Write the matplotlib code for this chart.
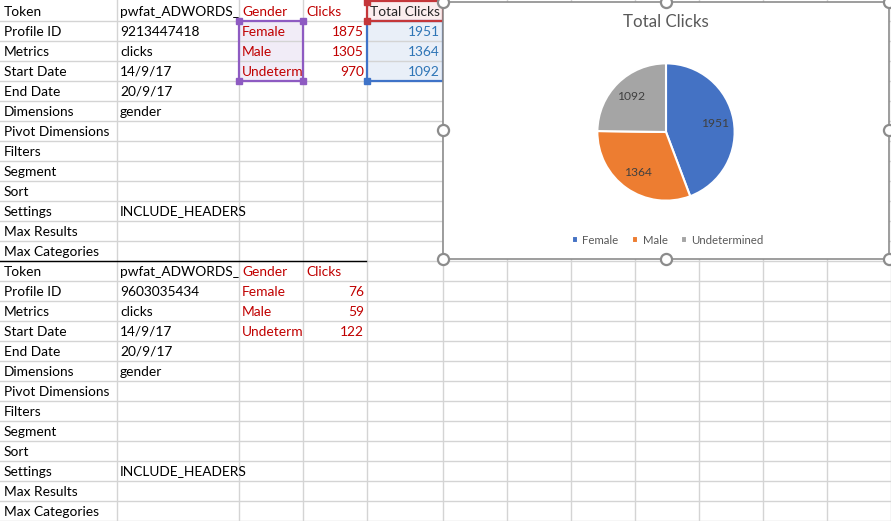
import matplotlib
matplotlib.use("Agg")
import matplotlib.pyplot as plt
from matplotlib.patches import Rectangle
from matplotlib.transforms import Bbox, TransformedBbox

plt.rcParams['font.family'] = ['Lato', 'DejaVu Sans']

# ---------------- data ----------------
row_labels = ["Token", "Profile ID", "Metrics", "Start Date", "End Date", "Dimensions",
              "Pivot Dimensions", "Filters", "Segment", "Sort", "Settings",
              "Max Results", "Max Categories"]
block1_values = ["pwfat_ADWORDS_FEED", "9213447418", "clicks", "14/9/17", "20/9/17", "gender",
                 "", "", "", "", "INCLUDE_HEADERS", "", ""]
block2_values = ["pwfat_ADWORDS_FEED", "9603035434", "clicks", "14/9/17", "20/9/17", "gender",
                 "", "", "", "", "INCLUDE_HEADERS", "", ""]
genders = ["Female", "Male", "Undetermined"]
clicks1 = [1875, 1305, 970]
total_clicks = [1951, 1364, 1092]
clicks2 = [76, 59, 122]
pie_colors = ["#4472C4", "#ED7D31", "#A5A5A5"]

W, H = 891, 521
fig = plt.figure(figsize=(W / 100, H / 100), dpi=100)
ax = fig.add_axes([0, 0, 1, 1])
ax.set_xlim(0, W)
ax.set_ylim(H, 0)
ax.axis("off")

FS = 9.9
ROW = 20
col_x = [0, 116, 238, 302, 366, 442, 506, 570, 634, 698, 762, 826, 890]
grid_c = "#D4D4D4"
red = "#C00000"
blue_txt = "#2E75B6"

# selection fills
ax.add_patch(Rectangle((238, 20), 64, 60, facecolor="#F1ECF7", edgecolor="none", zorder=0))
ax.add_patch(Rectangle((366, 20), 76, 60, facecolor="#E9EFF8", edgecolor="none", zorder=0))
ax.add_patch(Rectangle((366, 0), 76, 20, facecolor="#FBEEEE", edgecolor="none", zorder=0))

# gridlines
for k in range(1, 27):
    ax.plot([0, 890], [20 * k + 0.5, 20 * k + 0.5], color=grid_c, lw=1, zorder=1)
for x in col_x[1:]:
    ax.plot([x + 0.5, x + 0.5], [0, H], color=grid_c, lw=1, zorder=1)
# black border under first block
ax.plot([0, 366], [260.5, 260.5], color="black", lw=1, zorder=2)


def cell_text(text, col, row, ha="left", color="black", clip=True):
    x0, x1 = col_x[col], col_x[col + 1]
    y = row * ROW + 11.5
    if ha == "left":
        t = ax.text(x0 + 4, y, text, ha="left", va="center", fontsize=FS, color=color, zorder=5)
    else:
        t = ax.text(x1 - 2, y, text, ha="right", va="center", fontsize=FS, color=color, zorder=5)
    if clip:
        bb = TransformedBbox(Bbox([[x0 + 0.5, row * ROW], [x1 + 0.5, (row + 1) * ROW]]), ax.transData)
        t.set_clip_box(bb)
        t.set_clip_on(True)


for base, vals, clicks in [(0, block1_values, clicks1), (13, block2_values, clicks2)]:
    for i, (lab, val) in enumerate(zip(row_labels, vals)):
        cell_text(lab, 0, base + i)
        if val:
            # text overflows into the empty neighbour cell except on the first row
            cell_text(val, 1, base + i, clip=(i == 0))
    cell_text("Gender", 2, base, color=red)
    cell_text("Clicks", 3, base, color=red)
    for i, (g, c) in enumerate(zip(genders, clicks)):
        cell_text(g, 2, base + 1 + i, color=red)
        cell_text(str(c), 3, base + 1 + i, ha="right", color=red)

cell_text("Total Clicks", 4, 0, color="#262626")
for i, v in enumerate(total_clicks):
    cell_text(str(v), 4, 1 + i, ha="right", color=blue_txt)

# selection borders
ax.add_patch(Rectangle((238.5, 20.5), 64, 60, facecolor="none", edgecolor="#8E5BC2", lw=1.6, zorder=6))
ax.add_patch(Rectangle((366.5, 20.5), 76, 60, facecolor="none", edgecolor="#3F73C8", lw=1.6, zorder=6))
ax.add_patch(Rectangle((366.5, 0.5), 76, 20, facecolor="none", edgecolor="#C4373A", lw=1.6, zorder=6))
ax.plot([238.5, 302.5, 238.5, 302.5], [20.5, 20.5, 80.5, 80.5], ls="none", marker="s",
        ms=4.5, color="#8E5BC2", zorder=7)
ax.plot([366.5, 366.5], [1.5, 20.5], ls="none", marker="s", ms=4.5, color="#C4373A", zorder=7)
ax.plot([366.5], [80.5], ls="none", marker="s", ms=4.5, color="#3F73C8", zorder=7)

# chart frame
cx0, cy0, cx1, cy1 = 443, 2, 889, 259
ax.add_patch(Rectangle((cx0, cy0), cx1 - cx0, cy1 - cy0, facecolor="white",
                       edgecolor="#8C8C8C", lw=1.2, zorder=10))
hx = [cx0, (cx0 + cx1) / 2, cx1, cx0, cx1, cx0, (cx0 + cx1) / 2, cx1]
hy = [cy0, cy0, cy0, 130, 130, cy1, cy1, cy1]
ax.plot(hx, hy, ls="none", marker="o", ms=8, mfc="white", mec="#8C8C8C", mew=1.6, zorder=11)

# pie chart
pcx, pcy, r = 666, 132, 70
pax = fig.add_axes([(pcx - r) / W, 1 - (pcy + r) / H, 2 * r / W, 2 * r / H])
tot = sum(total_clicks)
wedges, _, autotexts = pax.pie(total_clicks, colors=pie_colors, startangle=90, counterclock=False,
                               autopct=lambda p: f"{p * tot / 100:.0f}", pctdistance=0.72,
                               wedgeprops=dict(edgecolor="white", linewidth=1.5),
                               textprops=dict(fontsize=8.7, color="#404040"))
pax.set_aspect("equal")
pax.set_xlim(-1.02, 1.02)
pax.set_ylim(-1.02, 1.02)

fig.text(pcx / W, 1 - 22 / H, "Total Clicks", ha="center", va="center",
         fontsize=12.2, color="#595959", zorder=12)
fig.legend(wedges, genders, loc="center", bbox_to_anchor=(668 / W, 1 - 240 / H), ncol=3,
           frameon=False, fontsize=8.2, handlelength=0.5, handleheight=0.5,
           handletextpad=0.4, columnspacing=1.2, labelcolor="#595959")

fig.savefig("out.png", dpi=100)
